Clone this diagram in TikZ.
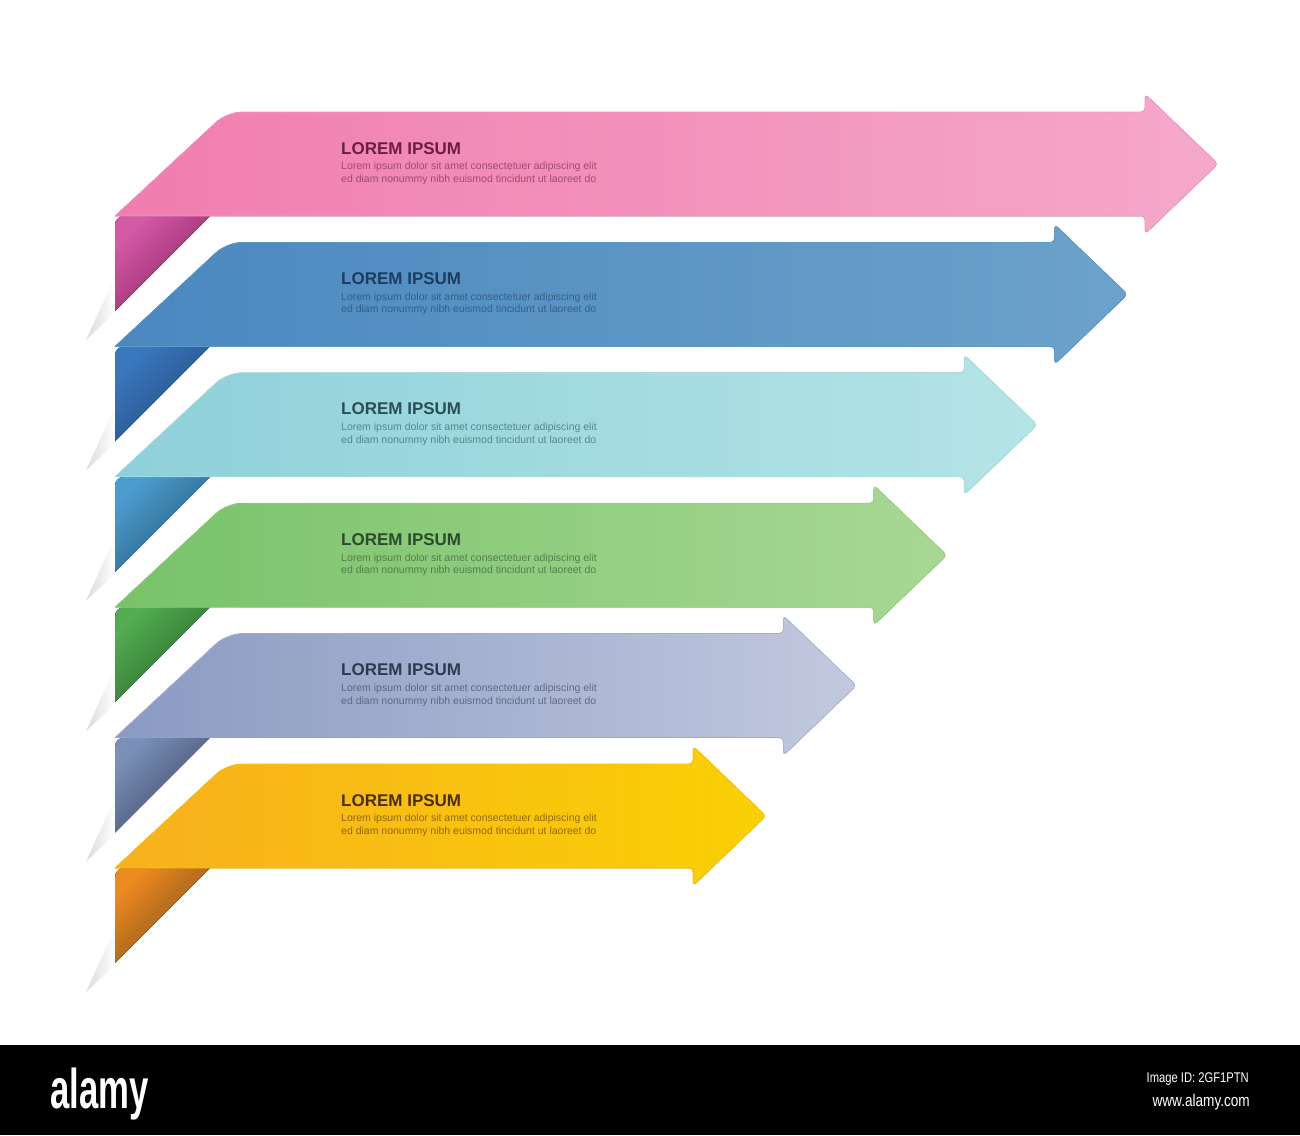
\documentclass[tikz,border=0pt]{standalone}
\usepackage{fontspec}
\setmainfont{Liberation Sans}
\usepackage{graphicx}
\usetikzlibrary{calc,fadings}

% band colours: A = left end, B = right end, C = tab, D = fold, E = text
\definecolor{rosaA}{HTML}{F07DAE}\definecolor{rosaB}{HTML}{F5A8CA}
\definecolor{rosaC}{HTML}{D45AA6}\definecolor{rosaD}{HTML}{8A2462}
\definecolor{rosaE}{HTML}{6B1E45}
\definecolor{azulA}{HTML}{4A88C0}\definecolor{azulB}{HTML}{6CA2CA}
\definecolor{azulC}{HTML}{3A78BE}\definecolor{azulD}{HTML}{1E4A80}
\definecolor{azulE}{HTML}{1E3D5E}
\definecolor{turqA}{HTML}{8ED0DA}\definecolor{turqB}{HTML}{B4E4E6}
\definecolor{turqC}{HTML}{4C9CD0}\definecolor{turqD}{HTML}{265878}
\definecolor{turqE}{HTML}{2A4E58}
\definecolor{verdeA}{HTML}{78C26A}\definecolor{verdeB}{HTML}{A8D894}
\definecolor{verdeC}{HTML}{52AC50}\definecolor{verdeD}{HTML}{2A6430}
\definecolor{verdeE}{HTML}{2C4A2C}
\definecolor{grisA}{HTML}{8A9AC2}\definecolor{grisB}{HTML}{C2C9DF}
\definecolor{grisC}{HTML}{7A90B8}\definecolor{grisD}{HTML}{3A4A68}
\definecolor{grisE}{HTML}{2E3A4E}
\definecolor{amarA}{HTML}{F8B01E}\definecolor{amarB}{HTML}{F9D004}
\definecolor{amarC}{HTML}{EC8A20}\definecolor{amarD}{HTML}{7E4E18}
\definecolor{amarE}{HTML}{4A2E00}

\tikzset{
  titulo/.style={anchor=base west, inner sep=0pt,
    font=\fontsize{17}{17}\selectfont\bfseries},
  cuerpo/.style={anchor=north west, inner sep=0pt, align=left,
    font=\fontsize{10.5}{12.6}\selectfont, opacity=0.6},
  sombra/.style={fill=black, fill opacity=0.14, path fading=east},
  marca/.style={text=white, inner sep=0pt}
}

\begin{document}
\begin{tikzpicture}[x=1pt,y=-1pt]
\useasboundingbox (0,0) rectangle (1300,1135);
\fill[white] (0,0) rectangle (1300,1045);

\foreach \i/\c in {0/rosa,1/azul,2/turq,3/verde,4/gris,5/amar}{
  \pgfmathsetmacro\T{112+130.4*\i}
  \pgfmathsetmacro\B{\T+104}
  \pgfmathsetmacro\C{\T+52}
  \pgfmathsetmacro\X{1218-90.4*\i}
  \pgfmathsetmacro\S{\X-73}
  % shadow under the fold
  \fill[sombra] (115,\B+60) -- (115,\B+97) -- (86,\B+124) -- cycle;
  % folded tab
  \fill[preaction={fill=\c C}, top color=\c C, middle color=\c D,
        bottom color=\c D, shading angle=45]
    (115,\B+95) [rounded corners=9pt] -- (115,\B) [sharp corners] -- (210,\B) -- cycle;
  % arrow band
  \fill[preaction={fill=\c A!50!\c B}, left color=\c A, right color=\c B,
        postaction={draw=\c A!40!\c B, line width=0.7pt, line join=round}]
    (115,\B) [rounded corners=15pt] -- (227,\T) [rounded corners=4pt] -- (\S,\T)
    -- (\S,\C-70) -- (\X,\C) -- (\S,\C+70) -- (\S,\B) [sharp corners] -- cycle;
  % texts
  \node[titulo, text=\c E] (tit\i) at (341,\T+42) {LOREM IPSUM};
  \node[cuerpo, text=\c E] (txt\i) at (341,\T+50)
    {Lorem ipsum dolor sit amet consectetuer adipiscing elit\\
     ed diam nonummy nibh euismod tincidunt ut laoreet do};
}

% bottom strip
\fill[black] (0,1045) rectangle (1300,1135);
\node[marca, anchor=base west] (logo) at (50,1108)
  {\scalebox{0.62}[1]{\fontsize{56}{56}\selectfont\bfseries alamy}};
\node[marca, anchor=base east] (imgid) at (1249,1082)
  {\scalebox{0.8}[1]{\fontsize{14}{14}\selectfont Image ID: 2GF1PTN}};
\node[marca, anchor=base east] (web) at (1250,1106)
  {\scalebox{0.8}[1]{\fontsize{17}{17}\selectfont www.alamy.com}};

\end{tikzpicture}
\end{document}
